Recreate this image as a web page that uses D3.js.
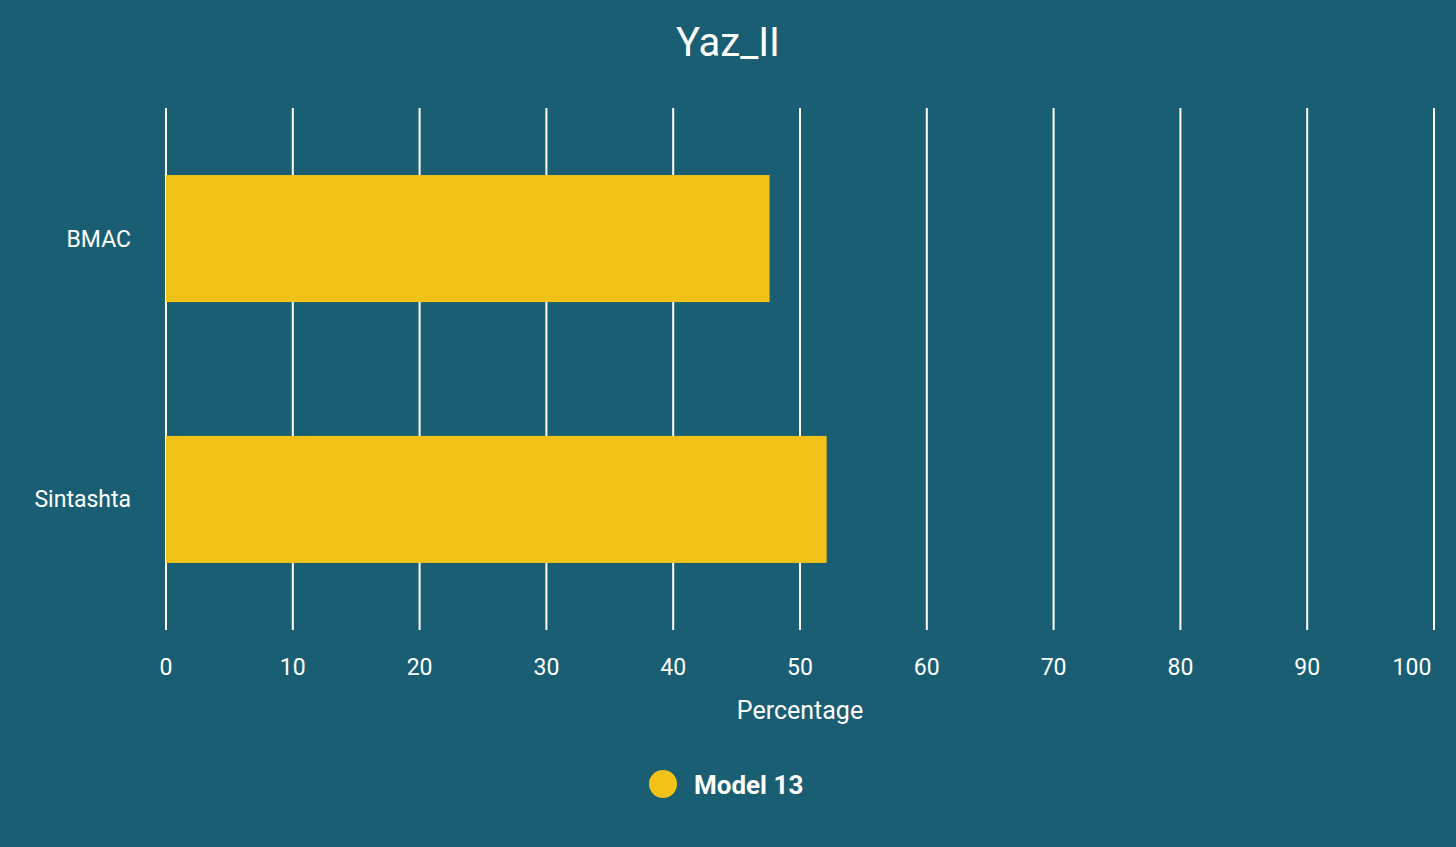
<!DOCTYPE html>
<html>
<head>
<meta charset="utf-8">
<script src="https://cdn.jsdelivr.net/npm/d3@7"></script>
<style>
  body { margin: 0; background: #1a5e73; }
  text { font-family: Roboto, sans-serif; fill: #fff; }
</style>
</head>
<body>
<script>
var categories = ['BMAC', 'Sintashta'];
var values = [47.6, 52.1];
var ticks = [0, 10, 20, 30, 40, 50, 60, 70, 80, 90, 100];
var seriesName = 'Model 13';

var W = 1456, H = 847;
var svg = d3.select('body').append('svg').attr('width', W).attr('height', H);
svg.append('rect').attr('width', W).attr('height', H).attr('fill', '#1a5e73');

var x = d3.scaleLinear().domain([0, 100]).range([166, 1434]);
var y = d3.scaleBand().domain(categories).range([108, 630]).paddingInner(0.513).paddingOuter(0.257);

// grid
svg.selectAll('line.grid').data(ticks).enter().append('line')
  .attr('x1', function(d){ return x(d); }).attr('x2', function(d){ return x(d); })
  .attr('y1', 108).attr('y2', 630)
  .attr('stroke', '#fff').attr('stroke-width', 2);

// bars
svg.selectAll('rect.bar').data(values).enter().append('rect')
  .attr('x', x(0))
  .attr('y', function(d, i){ return y(categories[i]); })
  .attr('width', function(d){ return x(d) - x(0); })
  .attr('height', y.bandwidth())
  .attr('fill', '#f2c218');

// x tick labels
svg.selectAll('text.tick').data(ticks).enter().append('text')
  .attr('x', function(d){ return d === 100 ? x(d) - 22 : x(d); })
  .attr('y', 675).attr('text-anchor', 'middle')
  .attr('font-size', 23).text(function(d){ return d; });

// category labels
svg.selectAll('text.cat').data(categories).enter().append('text')
  .attr('x', 131).attr('y', function(d){ return y(d) + y.bandwidth() / 2 + 8; })
  .attr('text-anchor', 'end').attr('font-size', 23).text(function(d){ return d; });

svg.append('text').attr('x', 800).attr('y', 719).attr('text-anchor', 'middle')
  .attr('font-size', 25).text('Percentage');

svg.append('text').attr('x', 728).attr('y', 56).attr('text-anchor', 'middle')
  .attr('font-size', 40).text('Yaz_II');

// legend
svg.append('circle').attr('cx', 663).attr('cy', 784).attr('r', 14).attr('fill', '#f2c218');
svg.append('text').attr('x', 694).attr('y', 794).attr('font-size', 26)
  .attr('font-weight', 'bold').text(seriesName);
</script>
</body>
</html>
